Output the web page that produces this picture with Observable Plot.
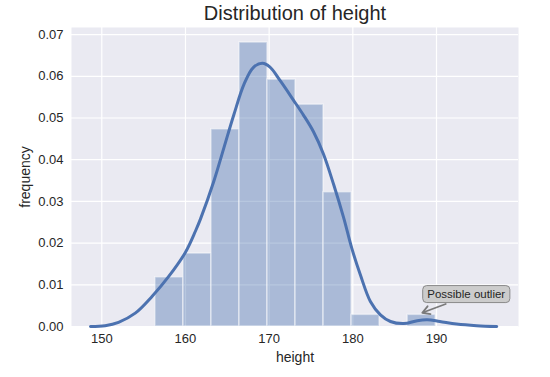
<!DOCTYPE html>
<html>
<head>
<meta charset="utf-8">
<script src="https://cdn.jsdelivr.net/npm/d3@7"></script>
<script src="https://cdn.jsdelivr.net/npm/@observablehq/plot@0.6"></script>
<style>
  html, body { margin: 0; padding: 0; background: #ffffff; }
  #chart { width: 550px; height: 377px; }
  svg { font-family: "Liberation Sans", Arial, sans-serif; }
</style>
</head>
<body>
<div id="chart"></div>
<script>
// Histogram bins (left edges, right edges) and density heights
const binLeft  = [156.4, 159.75, 163.1, 166.45, 169.8, 173.15, 176.5, 179.85, 183.2, 186.55];
const binRight = [159.75, 163.1, 166.45, 169.8, 173.15, 176.5, 179.85, 183.2, 186.55, 189.9];
const density  = [0.0118, 0.0175, 0.0473, 0.0681, 0.0592, 0.0532, 0.0322, 0.0028, 0, 0.0028];

// KDE curve
const kdeX = [148.65, 150.4, 152.0, 154.0, 156.0, 158.0, 160.0, 161.2, 161.8, 163.4, 164.6, 165.8, 167.0, 168.1, 169.2, 170.1, 171.3, 172.9, 174.1, 175.3, 176.5, 177.7, 178.9, 179.9, 180.9, 182.1, 183.3, 184.5, 186.1, 187.7, 188.9, 190.4, 192.4, 194.8, 197.2];
const kdeY = [0.0000, 0.0002, 0.0010, 0.0032, 0.0072, 0.0120, 0.0178, 0.0229, 0.0258, 0.0349, 0.0429, 0.0509, 0.0581, 0.0621, 0.0631, 0.0622, 0.0590, 0.0543, 0.0507, 0.0467, 0.0413, 0.0341, 0.0261, 0.0186, 0.0124, 0.0060, 0.0028, 0.0012, 0.0007, 0.0014, 0.0016, 0.0012, 0.0006, 0.0002, 0.0000];

const xTicks = [150, 160, 170, 180, 190];
const yTicks = [0, 0.01, 0.02, 0.03, 0.04, 0.05, 0.06, 0.07];

const titleText = "Distribution of height";
const xLabel = "height";
const yLabel = "frequency";
const noteText = "Possible outlier";
const noteAt = {x: 193.55, y: 0.0077};
const arrowFrom = {x: 191.1, y: 0.0054};
const arrowTo = {x: 188.3, y: 0.0033};

const bars = binLeft.map((l, i) => ({x1: l, x2: binRight[i], y: density[i]}));
const kde = kdeX.map((x, i) => ({x, y: kdeY[i]}));

const ink = "#262626";
const blue = "#4C72B0";

const plot = Plot.plot({
  width: 550,
  height: 377,
  marginLeft: 71,
  marginRight: 32,
  marginTop: 27,
  marginBottom: 51,
  style: {fontFamily: '"Liberation Sans", Arial, sans-serif', background: "white", overflow: "visible"},
  x: {domain: [146.38, 199.8], ticks: xTicks},
  y: {domain: [0, 0.0717], ticks: yTicks},
  marks: [
    Plot.frame({fill: "#EAEAF2", stroke: null}),
    Plot.gridX(xTicks, {stroke: "white", strokeOpacity: 1, strokeWidth: 1.2}),
    Plot.gridY(yTicks, {stroke: "white", strokeOpacity: 1, strokeWidth: 1.2}),
    Plot.rectY(bars, {x1: "x1", x2: "x2", y: "y", fill: blue, fillOpacity: 0.4, stroke: "white", strokeOpacity: 0.45, strokeWidth: 1.6, inset: 0}),
    Plot.line(kde, {x: "x", y: "y", stroke: blue, strokeWidth: 3, curve: "catmull-rom"}),
    Plot.axisX(xTicks, {tickSize: 0, tickPadding: 7, fontSize: 13, fill: ink, label: null}),
    Plot.axisY(yTicks, {tickSize: 0, tickPadding: 8, fontSize: 13, fill: ink, label: null, tickFormat: d3.format(".2f")}),
    Plot.text([xLabel], {frameAnchor: "bottom", lineAnchor: "middle", dy: 31, fontSize: 14, fill: ink}),
    Plot.text([yLabel], {frameAnchor: "left", lineAnchor: "middle", textAnchor: "middle", dx: -46, rotate: -90, fontSize: 14, fill: ink}),
    Plot.text([titleText], {frameAnchor: "top", lineAnchor: "middle", dy: -14, fontSize: 20, fill: ink}),
    Plot.arrow([0], {x1: () => arrowFrom.x, y1: () => arrowFrom.y, x2: () => arrowTo.x, y2: () => arrowTo.y, stroke: "#7a7a7a", strokeWidth: 1.8, headLength: 7}),
    Plot.text([noteText], {x: () => noteAt.x, y: () => noteAt.y, fontSize: 11.5, fill: ink, className: "note"})
  ]
});

document.getElementById("chart").appendChild(plot);

// rounded bbox behind the annotation
const noteG = plot.querySelector("g.note");
if (noteG) {
  const t = noteG.querySelector("text");
  const bb = t.getBBox();
  const r = document.createElementNS("http://www.w3.org/2000/svg", "rect");
  r.setAttribute("x", bb.x - 4.5);
  r.setAttribute("y", bb.y - 2.5);
  r.setAttribute("width", bb.width + 9);
  r.setAttribute("height", bb.height + 5);
  r.setAttribute("rx", 4);
  r.setAttribute("fill", "#CCCCCC");
  r.setAttribute("stroke", "#8A8A8A");
  r.setAttribute("stroke-width", 1);
  const tr = t.getAttribute("transform");
  if (tr) r.setAttribute("transform", tr);
  noteG.insertBefore(r, noteG.firstChild);
}
</script>
</body>
</html>
